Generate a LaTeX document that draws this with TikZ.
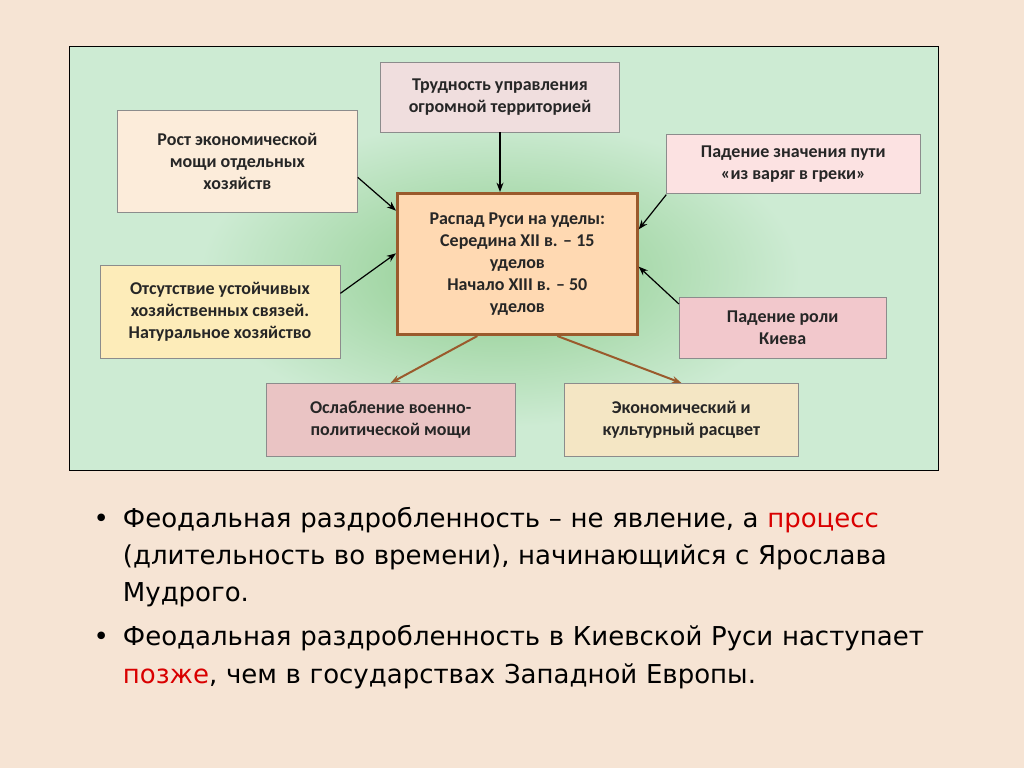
\documentclass[tikz,border=0pt]{standalone}
\usepackage{fontspec}
\setmainfont{DejaVu Sans}
\newfontfamily\boxfont{Carlito}
\usetikzlibrary{arrows.meta}
\definecolor{bgc}{HTML}{F6E4D4}
\definecolor{panel}{HTML}{CDEBD3}
\definecolor{brn}{HTML}{9A5A2C}
\begin{document}
\begin{tikzpicture}[x=1pt,y=-1pt,
  bx/.style={draw=black!45,line width=0.6pt,font=\boxfont\bfseries\fontsize{13.5}{16.5}\selectfont,align=center,text=black!85},
  ar/.style={-{Stealth[length=7pt]},line width=0.9pt},
  br/.style={-{Stealth[length=7pt]},line width=1.5pt,draw=brn}]
\useasboundingbox (0,0) rectangle (768,576);
\fill[bgc] (0,0) rectangle (768,576);
\fill[panel] (52,35) rectangle (704,353);
\shade[inner color=green!55!black!45,outer color=panel] (150,90) rectangle (600,320);
\draw[line width=1pt] (52,35) rectangle (704,353);
\node[bx,fill=orange!30!white,draw=brn,line width=2pt,minimum width=180pt,minimum height=106pt] (c) at (388,198) {Распад Руси на уделы:\\Середина XII в. – 15\\уделов\\Начало XIII в. – 50\\уделов};
\node[bx,fill={rgb,255:red,240;green,222;blue,222},minimum width=179pt,minimum height=52pt] (t) at (375,73) {Трудность управления\\огромной территорией};
\node[bx,fill={rgb,255:red,252;green,236;blue,218},minimum width=180pt,minimum height=76pt] (l1) at (178,121) {Рост экономической\\мощи отдельных\\хозяйств};
\node[bx,fill={rgb,255:red,252;green,226;blue,226},minimum width=190pt,minimum height=44pt] (r1) at (595,123) {Падение значения пути\\«из варяг в греки»};
\node[bx,fill={rgb,255:red,253;green,236;blue,185},minimum width=180pt,minimum height=70pt] (l2) at (165,234) {Отсутствие устойчивых\\хозяйственных связей.\\Натуральное хозяйство};
\node[bx,fill={rgb,255:red,242;green,200;blue,204},minimum width=155pt,minimum height=46pt] (r2) at (587,246) {Падение роли\\Киева};
\node[bx,fill={rgb,255:red,234;green,196;blue,196},minimum width=187pt,minimum height=55pt] (b1) at (293,315) {Ослабление военно-\\политической мощи};
\node[bx,fill={rgb,255:red,244;green,230;blue,196},minimum width=175pt,minimum height=55pt] (b2) at (511,315) {Экономический и\\культурный расцвет};
\draw[ar] (t) -- (c.north-|t);
\draw[ar] (l1.east|-0,133) -- (c.north west|-0,158);
\draw[ar] (l2.east|-0,220) -- (c.west|-0,190);
\draw[ar] (r1.south west|-0,146) -- (c.east|-0,172);
\draw[ar] (r2.west|-0,228) -- (c.east|-0,200);
\draw[br] ([xshift=-30pt]c.south) -- (b1.north);
\draw[br] ([xshift=30pt]c.south) -- (b2.north);
\node[anchor=north west,align=left,text width=660pt,font=\fontsize{19.5}{28}\selectfont,inner sep=0pt] (txt) at (70,380) {%
\makebox[22pt][l]{\textbullet}Феодальная раздробленность – не явление, а \textcolor{red!85!black}{процесс}\\
\hspace*{22pt}(длительность во времени), начинающийся с Ярослава\\
\hspace*{22pt}Мудрого.\\[5pt]
\makebox[22pt][l]{\textbullet}Феодальная раздробленность в Киевской Руси наступает\\
\hspace*{22pt}\textcolor{red!85!black}{позже}, чем в государствах Западной Европы.};
\end{tikzpicture}
\end{document}
